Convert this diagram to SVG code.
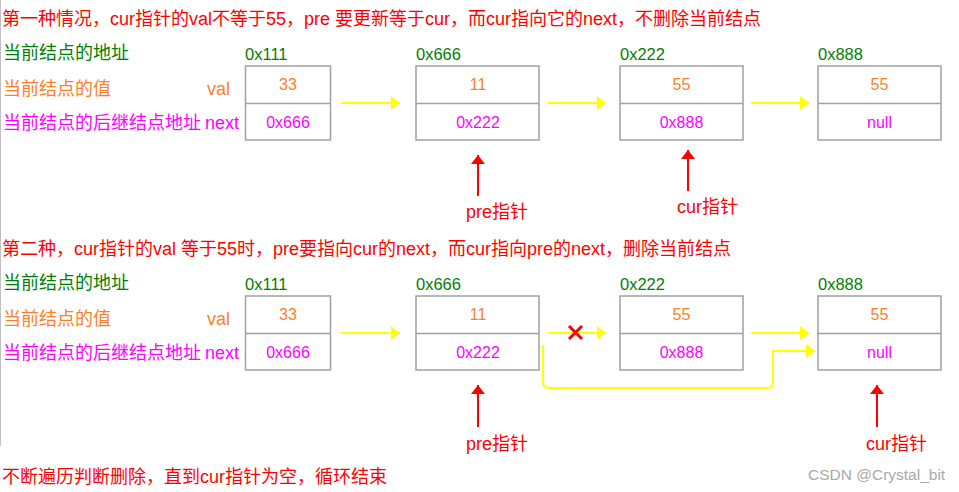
<svg xmlns="http://www.w3.org/2000/svg" width="959" height="492" viewBox="0 0 959 492">
<style>
text{font-family:"Liberation Sans","Noto Sans CJK SC",sans-serif;}
.h{font-size:18px;fill:#ff0000;}
.g{font-size:18px;fill:#008000;}
.o{font-size:18px;fill:#ff7f27;}
.m{font-size:18px;fill:#ff00ff;}
.addr{font-size:16.5px;fill:#008000;}
.val{font-size:16px;fill:#ff7f27;text-anchor:middle;}
.nx{font-size:16px;fill:#ff00ff;text-anchor:middle;}
.ptr{font-size:18px;fill:#ff0000;}
.box{fill:#ffffff;stroke:#a0a0a0;stroke-width:1.5;}
.ya{fill:none;stroke:#ffff00;stroke-width:2;marker-end:url(#ya);}
.ra{fill:none;stroke:#ff0000;stroke-width:2;marker-end:url(#ra);}
</style>
<defs>
<marker id="ya" markerUnits="userSpaceOnUse" markerWidth="9" markerHeight="14" refX="9" refY="7" orient="auto"><path d="M0,0 L9,7 L0,14 z" fill="#ffff00"/></marker>
<marker id="ra" markerUnits="userSpaceOnUse" markerWidth="9" markerHeight="14" refX="9" refY="7" orient="auto"><path d="M0,0 L9,7 L0,14 z" fill="#ff0000"/></marker>
</defs>
<rect x="0" y="0" width="959" height="492" fill="#ffffff"/>
<line x1="0.5" y1="0" x2="0.5" y2="446" stroke="#c0c0c0" stroke-width="1"/>

<g id="headings">
<text class="h" x="2" y="25">第一种情况，cur指针的val不等于55，pre 要更新等于cur，而cur指向它的next，不删除当前结点</text>
<text class="h" x="2" y="255">第二种，cur指针的val 等于55时，pre要指向cur的next，而cur指向pre的next，删除当前结点</text>
<text class="h" x="2" y="483">不断遍历判断删除，直到cur指针为空，循环结束</text>
</g>

<g id="legend1">
<text class="g" x="3" y="59">当前结点的地址</text>
<text class="o" x="3" y="95">当前结点的值</text>
<text class="o" x="207" y="95">val</text>
<text class="m" x="3" y="129">当前结点的后继结点地址</text>
<text class="m" x="205" y="129">next</text>
</g>
<g id="legend2">
<text class="g" x="3" y="289">当前结点的地址</text>
<text class="o" x="3" y="325">当前结点的值</text>
<text class="o" x="207" y="325">val</text>
<text class="m" x="3" y="359">当前结点的后继结点地址</text>
<text class="m" x="205" y="359">next</text>
</g>

<!-- Section 1 nodes -->
<g id="n1a">
<text class="addr" x="245" y="60">0x111</text>
<rect class="box" x="245.5" y="66" width="85" height="74"/>
<line x1="245.5" y1="103.5" x2="330.5" y2="103.5" stroke="#a0a0a0" stroke-width="1.5"/>
<text class="val" x="288" y="90">33</text>
<text class="nx" x="288" y="128">0x666</text>
</g>
<g id="n1b">
<text class="addr" x="416" y="60">0x666</text>
<rect class="box" x="416" y="66" width="123" height="74"/>
<line x1="416" y1="103.5" x2="539" y2="103.5" stroke="#a0a0a0" stroke-width="1.5"/>
<text class="val" x="478" y="90">11</text>
<text class="nx" x="478" y="128">0x222</text>
</g>
<g id="n1c">
<text class="addr" x="620" y="60">0x222</text>
<rect class="box" x="620" y="66" width="123" height="74"/>
<line x1="620" y1="103.5" x2="743" y2="103.5" stroke="#a0a0a0" stroke-width="1.5"/>
<text class="val" x="681.5" y="90">55</text>
<text class="nx" x="681.5" y="128">0x888</text>
</g>
<g id="n1d">
<text class="addr" x="818" y="60">0x888</text>
<rect class="box" x="818" y="66" width="123" height="74"/>
<line x1="818" y1="103.5" x2="941" y2="103.5" stroke="#a0a0a0" stroke-width="1.5"/>
<text class="val" x="879.5" y="90">55</text>
<text class="nx" x="879.5" y="128">null</text>
</g>
<g id="p1pre"><text class="ptr" x="466" y="218">pre指针</text></g>
<g id="p1cur"><text class="ptr" x="677" y="213">cur指针</text></g>

<!-- Section 2 nodes -->
<g id="n2a">
<text class="addr" x="245" y="290">0x111</text>
<rect class="box" x="245.5" y="296" width="85" height="74"/>
<line x1="245.5" y1="333.5" x2="330.5" y2="333.5" stroke="#a0a0a0" stroke-width="1.5"/>
<text class="val" x="288" y="320">33</text>
<text class="nx" x="288" y="358">0x666</text>
</g>
<g id="n2b">
<text class="addr" x="416" y="290">0x666</text>
<rect class="box" x="416" y="296" width="123" height="74"/>
<line x1="416" y1="333.5" x2="539" y2="333.5" stroke="#a0a0a0" stroke-width="1.5"/>
<text class="val" x="478" y="320">11</text>
<text class="nx" x="478" y="358">0x222</text>
</g>
<g id="n2c">
<text class="addr" x="620" y="290">0x222</text>
<rect class="box" x="620" y="296" width="123" height="74"/>
<line x1="620" y1="333.5" x2="743" y2="333.5" stroke="#a0a0a0" stroke-width="1.5"/>
<text class="val" x="681.5" y="320">55</text>
<text class="nx" x="681.5" y="358">0x888</text>
</g>
<g id="n2d">
<text class="addr" x="818" y="290">0x888</text>
<rect class="box" x="818" y="296" width="123" height="74"/>
<line x1="818" y1="333.5" x2="941" y2="333.5" stroke="#a0a0a0" stroke-width="1.5"/>
<text class="val" x="879.5" y="320">55</text>
<text class="nx" x="879.5" y="358">null</text>
</g>
<g id="p2pre"><text class="ptr" x="466" y="450">pre指针</text></g>
<g id="p2cur"><text class="ptr" x="866" y="450">cur指针</text></g>

<g id="connectors">
<line class="ya" x1="341" y1="103" x2="400" y2="103"/>
<line class="ya" x1="548" y1="103" x2="606" y2="103"/>
<line class="ya" x1="751" y1="103" x2="809" y2="103"/>
<line class="ra" x1="478" y1="196" x2="478" y2="155"/>
<line class="ra" x1="688" y1="191" x2="688" y2="150"/>

<line class="ya" x1="341" y1="333" x2="400" y2="333"/>
<line class="ya" x1="548" y1="333" x2="606" y2="333"/>
<line class="ya" x1="751" y1="333" x2="809" y2="333"/>
<path class="ya" d="M543,345 V382 Q543,388 549,388 H767 Q773,388 773,382 V351 H815"/>
<line class="ra" x1="478" y1="427" x2="478" y2="385"/>
<line class="ra" x1="877" y1="427" x2="877" y2="385"/>
<path d="M569,326 L582,339 M582,326 L569,339" stroke="#ff0000" stroke-width="3" fill="none"/>
</g>

<text x="808" y="480" style="font-size:15.5px;fill:#a8a8a8;">CSDN @Crystal_bit</text>
</svg>
